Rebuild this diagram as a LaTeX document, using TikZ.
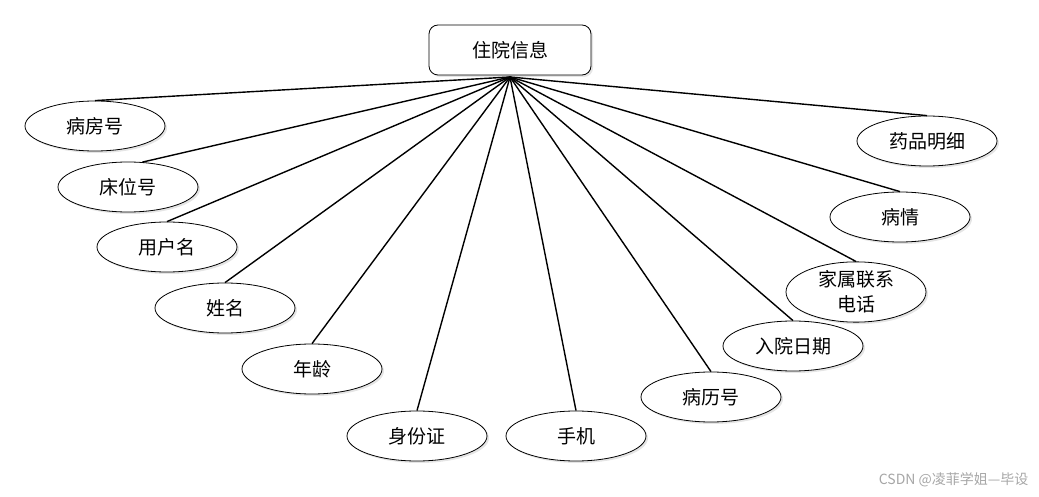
\documentclass[tikz,border=0pt]{standalone}
\usepackage{fontspec}
\newfontfamily\cjk{Noto Sans CJK SC}
\usetikzlibrary{shapes.geometric,shadows}
\tikzset{
  attr/.style={ellipse,draw,line width=0.8pt,fill=white,minimum width=140pt,minimum height=50pt,
    inner sep=0pt,align=center,font=\cjk\fontsize{19}{25}\selectfont,
    drop shadow={shadow xshift=2pt,shadow yshift=-2pt,fill=gray!40}},
  entity/.style={rectangle,rounded corners=9pt,draw,line width=0.8pt,fill=white,minimum width=162pt,
    minimum height=50pt,font=\cjk\fontsize{19}{22}\selectfont,
    drop shadow={shadow xshift=2pt,shadow yshift=-2pt,fill=gray!40}},
  link/.style={line width=1.4pt},
}
\begin{document}
\begin{tikzpicture}[x=1pt,y=-1pt]
\useasboundingbox (0,0) rectangle (1039,497);
\node[entity] (info) at (510,50) {住院信息};
\coordinate (hub) at (510,77);
\node[attr] (ward) at (95,126) {病房号};
\node[attr] (bed) at (128,187) {床位号};
\node[attr] (user) at (167,247) {用户名};
\node[attr] (name) at (225,308) {姓名};
\node[attr] (age) at (312,369) {年龄};
\node[attr] (idcard) at (417,436) {身份证};
\node[attr] (phone) at (576,436) {手机};
\node[attr] (record) at (711,397) {病历号};
\node[attr] (admit) at (793,346) {入院日期};
\node[attr] (family) at (856,292) {家属联系\\电话};
\node[attr] (illness) at (900,217) {病情};
\node[attr] (drugs) at (927,141) {药品明细};
\foreach \n in {ward,user,name,age,idcard,phone,record,admit,family,illness,drugs}
  \draw[link] (hub) -- (\n.north);
\draw[link] (hub) -- (bed.60);
\node[font=\cjk\fontsize{14}{16}\selectfont,text=gray!70,anchor=east] (mark) at (1032,480) {CSDN @凌菲学姐—毕设};
\end{tikzpicture}
\end{document}
